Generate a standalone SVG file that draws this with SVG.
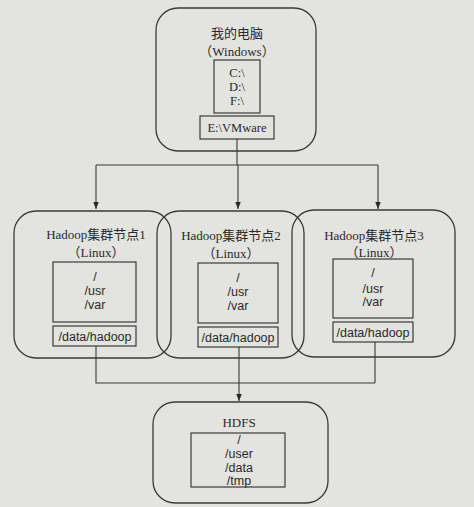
<svg xmlns="http://www.w3.org/2000/svg" width="474" height="507" viewBox="0 0 474 507">
<style>
.bg{fill:#e3e3e0}
.node{fill:none;stroke:#3a3a3a;stroke-width:1.3}
.box{fill:none;stroke:#3a3a3a;stroke-width:1.2}
.ln{fill:none;stroke:#3a3a3a;stroke-width:1.1}
.t{font-family:"Liberation Serif","Noto Sans CJK SC",serif;font-size:13px;fill:#2a2a2a;text-anchor:middle}
.p{font-family:"Liberation Sans","Noto Sans",sans-serif;font-size:12.5px;fill:#2a2a2a;text-anchor:middle}
.s{font-family:"Liberation Serif",serif;font-size:12.5px;fill:#2a2a2a;text-anchor:middle}
</style>
<defs>
<marker id="arr" viewBox="0 0 10 10" refX="10" refY="5" markerWidth="7" markerHeight="7" orient="auto" markerUnits="userSpaceOnUse">
<path d="M0,1 L10,5 L0,9 Z" fill="#2a2a2a"/>
</marker>
</defs>
<rect class="bg" x="0" y="0" width="474" height="507"/>
<g id="connectors">
<path class="ln" d="M237,139 V165 M96,165 H378"/>
<path class="ln" d="M96,165 V209" marker-end="url(#arr)"/>
<path class="ln" d="M238,165 V209" marker-end="url(#arr)"/>
<path class="ln" d="M378,165 V209" marker-end="url(#arr)"/>
<path class="ln" d="M96,346 V383 H375 M375,342 V383"/>
<path class="ln" d="M239,347 V401" marker-end="url(#arr)"/>
</g>
<g id="my-computer">
<rect class="node" x="156" y="8" width="160" height="143" rx="22"/>
<text class="t" x="237" y="38">我的电脑</text>
<text class="t" x="237" y="56">（Windows）</text>
<rect class="box" x="214" y="60" width="46" height="53"/>
<text class="s" x="237" y="77">C:\</text>
<text class="s" x="237" y="91">D:\</text>
<text class="s" x="237" y="105">F:\</text>
<rect class="box" x="200" y="116" width="74" height="23"/>
<text class="s" x="237" y="132">E:\VMware</text>
</g>
<g id="hadoop-node-1">
<rect class="node" x="14" y="211" width="157" height="147" rx="22"/>
<text class="t" x="96" y="239">Hadoop集群节点1</text>
<text class="t" x="96" y="257">（Linux）</text>
<rect class="box" x="53" y="262" width="83" height="60"/>
<text class="p" x="95" y="281">/</text>
<text class="p" x="95" y="295">/usr</text>
<text class="p" x="95" y="309">/var</text>
<rect class="box" x="53" y="326" width="83" height="20"/>
<text class="p" x="95" y="341">/data/hadoop</text>
</g>
<g id="hadoop-node-2">
<rect class="node" x="157" y="211" width="147" height="147" rx="22"/>
<text class="t" x="231" y="240">Hadoop集群节点2</text>
<text class="t" x="231" y="258">（Linux）</text>
<rect class="box" x="198" y="263" width="80" height="60"/>
<text class="p" x="238" y="282">/</text>
<text class="p" x="238" y="296">/usr</text>
<text class="p" x="238" y="310">/var</text>
<rect class="box" x="198" y="327" width="80" height="20"/>
<text class="p" x="238" y="342">/data/hadoop</text>
</g>
<g id="hadoop-node-3">
<rect class="node" x="292" y="210" width="163" height="147" rx="22"/>
<text class="t" x="374" y="240">Hadoop集群节点3</text>
<text class="t" x="374" y="257">（Linux）</text>
<rect class="box" x="333" y="259" width="80" height="59"/>
<text class="p" x="373" y="277">/</text>
<text class="p" x="373" y="293">/usr</text>
<text class="p" x="373" y="306">/var</text>
<rect class="box" x="333" y="322" width="80" height="20"/>
<text class="p" x="373" y="337">/data/hadoop</text>
</g>
<g id="hdfs">
<rect class="node" x="153" y="402" width="175" height="101" rx="22"/>
<text class="t" x="239" y="427">HDFS</text>
<rect class="box" x="191" y="433" width="94" height="54"/>
<text class="p" x="239" y="444">/</text>
<text class="p" x="239" y="458">/user</text>
<text class="p" x="239" y="472">/data</text>
<text class="p" x="239" y="485">/tmp</text>
</g>
</svg>
